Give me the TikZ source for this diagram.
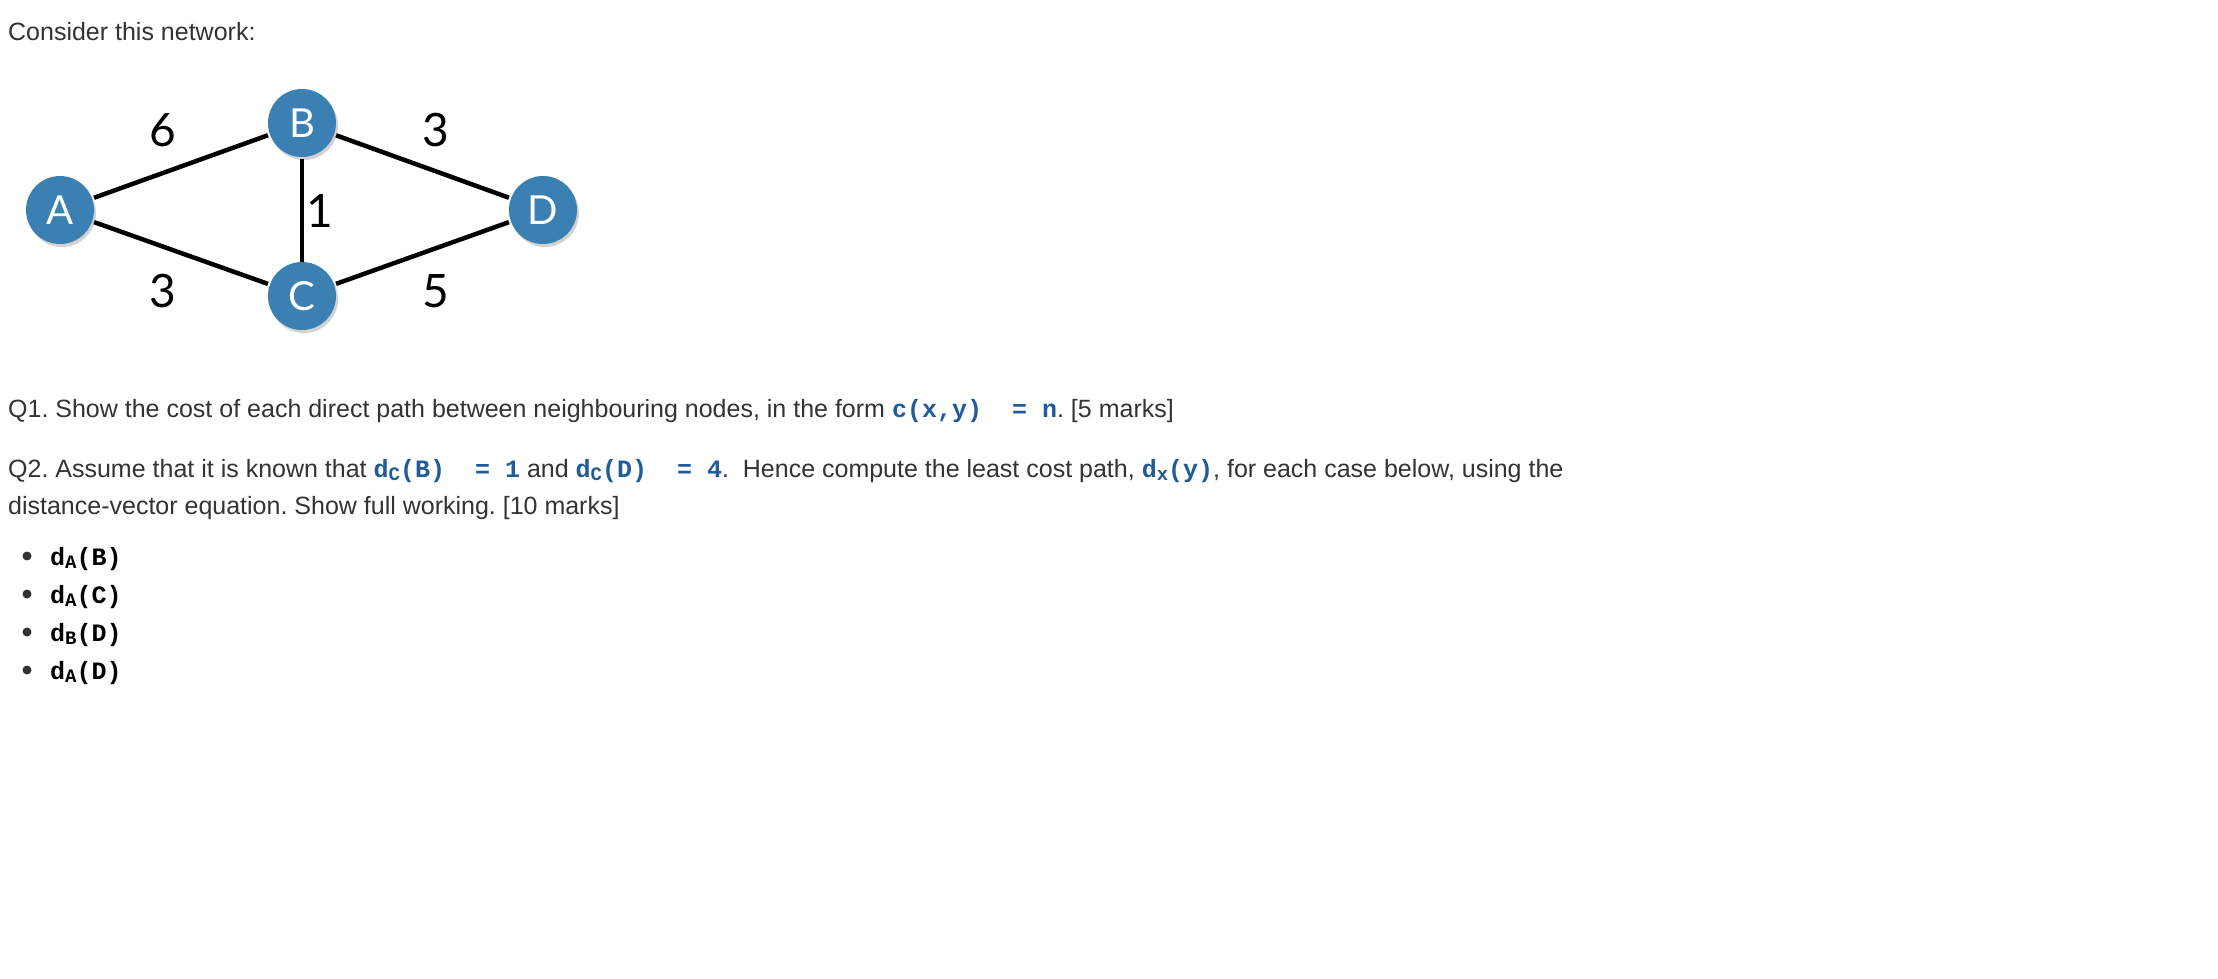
\documentclass[tikz,border=0pt]{standalone}
\usepackage{fontspec}
\setmainfont{Liberation Sans}
\newfontfamily\numf{Lato}
\newfontfamily\codef{Liberation Mono}
\usetikzlibrary{shadows}
\frenchspacing
\definecolor{nodeblue}{HTML}{3A80B2}
\definecolor{codeblue}{HTML}{1F5C99}
\definecolor{txt}{HTML}{333333}
\newcommand{\cd}[1]{{\codef\bfseries #1}}
\newcommand{\dsub}[2]{{\codef\bfseries d\raisebox{-0.3ex}{\fontsize{19}{19}\selectfont #1}(#2)}}
\tikzset{
  vtx/.style={circle,fill=nodeblue,minimum size=68pt,inner sep=0pt,text=white,font=\numf\fontsize{40}{40}\selectfont,drop shadow={shadow xshift=2pt,shadow yshift=-3pt,opacity=0.35}},
  edge/.style={line width=4.5pt,black},
  wt/.style={font=\numf\fontsize{46}{46}\selectfont,text=black,inner sep=0pt},
  line/.style={anchor=base west,inner sep=0pt,font=\fontsize{25}{25}\selectfont,text=txt},
}
\begin{document}
\begin{tikzpicture}[x=1pt,y=-1pt]
\useasboundingbox[fill=white] (0,0) rectangle (2218,978);
\node[line] (t0) at (8,40) {Consider this network:};
\node[vtx] (A) at (60,210) {A};
\node[vtx] (B) at (302,123) {B};
\node[vtx] (C) at (302,296) {C};
\node[vtx] (D) at (543,210) {D};
\draw[edge,shorten <=2pt,shorten >=2pt] (A) -- (B);
\draw[edge,shorten <=2pt,shorten >=2pt] (B) -- (D);
\draw[edge,shorten <=2pt,shorten >=2pt] (A) -- (C);
\draw[edge,shorten <=2pt,shorten >=2pt] (C) -- (D);
\draw[line width=3.5pt,shorten <=2pt,shorten >=0pt] (B) -- (C);
\node[wt] (w1) at (163,130) {6};
\node[wt] (w2) at (436,130) {3};
\node[wt] (w3) at (320,211) {1};
\node[wt] (w4) at (163,291) {3};
\node[wt] (w5) at (436,291) {5};
\node[line] (q1) at (8,417) {Q1. Show the cost of each direct path between neighbouring nodes, in the form {\color{codeblue}\cd{c(x,y)\ \ =\ n}}. [5 marks]};
\node[line] (q2) at (8,477) {Q2. Assume that it is known that {\color{codeblue}\dsub{C}{B}\cd{\ \ =\ 1}} and {\color{codeblue}\dsub{C}{D}\cd{\ \ =\ 4}}.\ \ Hence compute the least cost path, {\color{codeblue}\dsub{x}{y}}, for each case below, using the};
\node[line] (q2b) at (8,514) {distance-vector equation. Show full working. [10 marks]};
\foreach \i/\a/\b/\y in {1/A/B/565,2/A/C/603,3/B/D/641,4/A/D/679}{
  \node[circle,fill=txt,inner sep=0pt,minimum size=9pt] (b\i) at (27,\y-9) {};
  \node[line,text=black] (l\i) at (50,\y) {\dsub{\a}{\b}};
}
\end{tikzpicture}
\end{document}
